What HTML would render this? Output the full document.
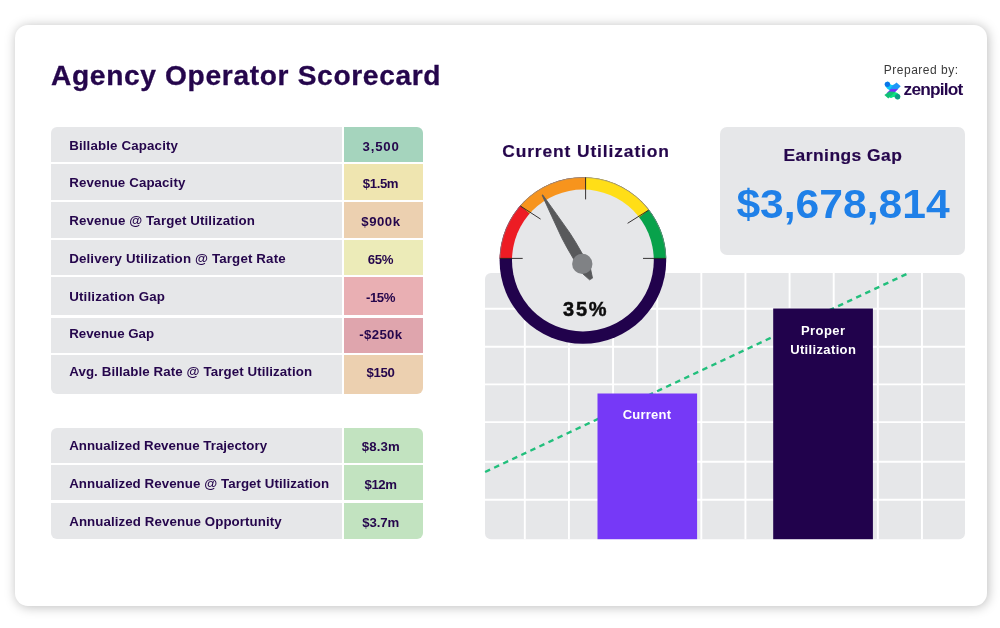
<!DOCTYPE html>
<html lang="en"><head><meta charset="utf-8"><title>Agency Operator Scorecard</title>
<style>
html,body{margin:0;padding:0;background:#fff;}
body{width:1000px;height:628px;position:relative;overflow:hidden;font-family:"Liberation Sans",sans-serif;}
.card{position:absolute;left:15px;top:25px;width:972px;height:581px;background:#fff;border-radius:13px;box-shadow:1px 1px 12px rgba(0,0,0,.27);}
.c{position:absolute;}
.t{position:absolute;white-space:nowrap;font-family:"Liberation Sans",sans-serif;}
svg{position:absolute;left:0;top:0;}
</style></head><body>
<div class="card"></div>
<div class="t " style="left:51.00px;top:60.43px;font-size:26.8px;line-height:32.16px;color:#25064c;font-weight:700;letter-spacing:0.628px;transform:scaleX(1.05);transform-origin:0 50%;-webkit-text-stroke:0.3px #25064c;">Agency Operator Scorecard</div>
<div class="c" style="left:51px;top:127.4px;width:291px;height:34.7px;background:#e6e7e9;border-top-left-radius:6px;"></div>
<div class="c" style="left:343.6px;top:127.4px;width:79.4px;height:34.7px;background:#a5d4bd;border-top-right-radius:6px;"></div>
<div class="t " style="left:69.20px;top:137.71px;font-size:13.3px;line-height:15.96px;color:#25064c;font-weight:700;letter-spacing:0.148px;">Billable Capacity</div>
<div class="t " style="left:181.10px;width:400px;text-align:center;top:138.71px;font-size:13.2px;line-height:15.84px;color:#25064c;font-weight:700;letter-spacing:0.794px;">3,500</div>
<div class="c" style="left:51px;top:164.4px;width:291px;height:35.4px;background:#e6e7e9;"></div>
<div class="c" style="left:343.6px;top:164.4px;width:79.4px;height:35.4px;background:#efe5b0;"></div>
<div class="t " style="left:69.20px;top:175.41px;font-size:13.3px;line-height:15.96px;color:#25064c;font-weight:700;letter-spacing:0.108px;">Revenue Capacity</div>
<div class="t " style="left:180.49px;width:400px;text-align:center;top:176.41px;font-size:13.2px;line-height:15.84px;color:#25064c;font-weight:700;letter-spacing:-0.426px;">$1.5m</div>
<div class="c" style="left:51px;top:202.0px;width:291px;height:35.5px;background:#e6e7e9;"></div>
<div class="c" style="left:343.6px;top:202.0px;width:79.4px;height:35.5px;background:#ecd0b0;"></div>
<div class="t " style="left:69.20px;top:213.11px;font-size:13.3px;line-height:15.96px;color:#25064c;font-weight:700;letter-spacing:0.115px;">Revenue @ Target Utilization</div>
<div class="t " style="left:180.95px;width:400px;text-align:center;top:214.11px;font-size:13.2px;line-height:15.84px;color:#25064c;font-weight:700;letter-spacing:0.499px;">$900k</div>
<div class="c" style="left:51px;top:239.9px;width:291px;height:35.2px;background:#e6e7e9;"></div>
<div class="c" style="left:343.6px;top:239.9px;width:79.4px;height:35.2px;background:#ecebb8;"></div>
<div class="t " style="left:69.20px;top:250.81px;font-size:13.3px;line-height:15.96px;color:#25064c;font-weight:700;letter-spacing:0.15px;">Delivery Utilization @ Target Rate</div>
<div class="t " style="left:180.53px;width:400px;text-align:center;top:251.81px;font-size:13.2px;line-height:15.84px;color:#25064c;font-weight:700;letter-spacing:-0.34px;">65%</div>
<div class="c" style="left:51px;top:277.3px;width:291px;height:37.8px;background:#e6e7e9;"></div>
<div class="c" style="left:343.6px;top:277.3px;width:79.4px;height:37.8px;background:#e9afb3;"></div>
<div class="t " style="left:69.20px;top:288.51px;font-size:13.3px;line-height:15.96px;color:#25064c;font-weight:700;letter-spacing:0.186px;">Utilization Gap</div>
<div class="t " style="left:180.47px;width:400px;text-align:center;top:289.51px;font-size:13.2px;line-height:15.84px;color:#25064c;font-weight:700;letter-spacing:-0.454px;">-15%</div>
<div class="c" style="left:51px;top:317.6px;width:291px;height:35.2px;background:#e6e7e9;"></div>
<div class="c" style="left:343.6px;top:317.6px;width:79.4px;height:35.2px;background:#dfa5ad;"></div>
<div class="t " style="left:69.20px;top:326.21px;font-size:13.3px;line-height:15.96px;color:#25064c;font-weight:700;letter-spacing:-0.01px;">Revenue Gap</div>
<div class="t " style="left:180.88px;width:400px;text-align:center;top:327.21px;font-size:13.2px;line-height:15.84px;color:#25064c;font-weight:700;letter-spacing:0.35px;">-$250k</div>
<div class="c" style="left:51px;top:355.1px;width:291px;height:38.5px;background:#e6e7e9;border-bottom-left-radius:6px;"></div>
<div class="c" style="left:343.6px;top:355.1px;width:79.4px;height:38.5px;background:#ecd0b0;border-bottom-right-radius:6px;"></div>
<div class="t " style="left:69.20px;top:363.91px;font-size:13.3px;line-height:15.96px;color:#25064c;font-weight:700;letter-spacing:0.1px;">Avg. Billable Rate @ Target Utilization</div>
<div class="t " style="left:180.54px;width:400px;text-align:center;top:364.91px;font-size:13.2px;line-height:15.84px;color:#25064c;font-weight:700;letter-spacing:-0.316px;">$150</div>
<div class="c" style="left:51px;top:427.9px;width:291px;height:35.0px;background:#e6e7e9;border-top-left-radius:6px;"></div>
<div class="c" style="left:343.6px;top:427.9px;width:79.4px;height:35.0px;background:#c2e3c0;border-top-right-radius:6px;"></div>
<div class="t " style="left:69.20px;top:438.31px;font-size:13.3px;line-height:15.96px;color:#25064c;font-weight:700;letter-spacing:0.02px;">Annualized Revenue Trajectory</div>
<div class="t " style="left:180.77px;width:400px;text-align:center;top:439.31px;font-size:13.2px;line-height:15.84px;color:#25064c;font-weight:700;letter-spacing:0.134px;">$8.3m</div>
<div class="c" style="left:51px;top:465.1px;width:291px;height:35.2px;background:#e6e7e9;"></div>
<div class="c" style="left:343.6px;top:465.1px;width:79.4px;height:35.2px;background:#c2e3c0;"></div>
<div class="t " style="left:69.20px;top:476.01px;font-size:13.3px;line-height:15.96px;color:#25064c;font-weight:700;letter-spacing:0.068px;">Annualized Revenue @ Target Utilization</div>
<div class="t " style="left:180.47px;width:400px;text-align:center;top:477.01px;font-size:13.2px;line-height:15.84px;color:#25064c;font-weight:700;letter-spacing:-0.465px;">$12m</div>
<div class="c" style="left:51px;top:502.6px;width:291px;height:36.7px;background:#e6e7e9;border-bottom-left-radius:6px;"></div>
<div class="c" style="left:343.6px;top:502.6px;width:79.4px;height:36.7px;background:#c2e3c0;border-bottom-right-radius:6px;"></div>
<div class="t " style="left:69.20px;top:513.61px;font-size:13.3px;line-height:15.96px;color:#25064c;font-weight:700;letter-spacing:0.095px;">Annualized Revenue Opportunity</div>
<div class="t " style="left:180.65px;width:400px;text-align:center;top:514.61px;font-size:13.2px;line-height:15.84px;color:#25064c;font-weight:700;letter-spacing:-0.106px;">$3.7m</div>
<div class="c" style="left:720px;top:127px;width:245px;height:128px;background:#e6e7e9;border-radius:7px;"></div>
<div class="t " style="left:642.94px;width:400px;text-align:center;top:145.03px;font-size:17.4px;line-height:20.88px;color:#25064c;font-weight:700;letter-spacing:0.479px;-webkit-text-stroke:0.2px #25064c;">Earnings Gap</div>
<div class="t " style="left:642.90px;width:400px;text-align:center;top:179.54px;font-size:40px;line-height:48.0px;color:#1f80e8;font-weight:700;transform:scaleX(1.065);transform-origin:50% 50%;">$3,678,814</div>
<div class="t " style="left:883.80px;top:62.64px;font-size:12px;line-height:14.4px;color:#3a3a3a;font-weight:400;letter-spacing:0.5px;">Prepared by:</div>
<div class="t " style="left:903.60px;top:78.93px;font-size:17.3px;line-height:20.76px;color:#25064c;font-weight:700;letter-spacing:-0.8px;">zenpilot</div>
<div class="t " style="left:386.04px;width:400px;text-align:center;top:141.03px;font-size:17.4px;line-height:20.88px;color:#25064c;font-weight:700;letter-spacing:0.889px;-webkit-text-stroke:0.2px #25064c;">Current Utilization</div>
<svg width="1000" height="628" viewBox="0 0 1000 628">
<defs><clipPath id="cc"><rect x="485" y="273" width="480" height="266.2" rx="6" ry="6"/></clipPath></defs>
<rect x="485" y="273" width="480" height="266.2" rx="6" ry="6" fill="#e6e7e9"/>
<g clip-path="url(#cc)" stroke="#fff" stroke-width="1.9"><line x1="524.80" y1="273" x2="524.80" y2="540"/><line x1="568.93" y1="273" x2="568.93" y2="540"/><line x1="613.06" y1="273" x2="613.06" y2="540"/><line x1="657.19" y1="273" x2="657.19" y2="540"/><line x1="701.32" y1="273" x2="701.32" y2="540"/><line x1="745.45" y1="273" x2="745.45" y2="540"/><line x1="789.58" y1="273" x2="789.58" y2="540"/><line x1="833.71" y1="273" x2="833.71" y2="540"/><line x1="877.84" y1="273" x2="877.84" y2="540"/><line x1="921.97" y1="273" x2="921.97" y2="540"/><line x1="485" y1="308.80" x2="965" y2="308.80"/><line x1="485" y1="346.80" x2="965" y2="346.80"/><line x1="485" y1="384.40" x2="965" y2="384.40"/><line x1="485" y1="422.10" x2="965" y2="422.10"/><line x1="485" y1="461.80" x2="965" y2="461.80"/><line x1="485" y1="499.80" x2="965" y2="499.80"/></g>
<line x1="485.1" y1="472.0" x2="906.9" y2="273.9" stroke="#22bf7c" stroke-width="2.4" stroke-dasharray="5.5 4.5"/>
<rect x="597.5" y="393.5" width="99.6" height="145.7" fill="#7639f7"/>
<rect x="773.2" y="308.5" width="99.7" height="230.7" fill="#21024c"/>
<circle cx="582.9" cy="260.5" r="83.3" fill="#21024c"/>
<clipPath id="gu"><rect x="490" y="170" width="190" height="88.40"/></clipPath>
<g clip-path="url(#gu)"><path d="M582.9,260.5 L665.88,267.76 A83.3,83.3 0 0 0 648.99,209.79 Z" fill="#08a24b"/><path d="M582.9,260.5 L648.99,209.79 A83.3,83.3 0 0 0 585.66,177.25 Z" fill="#ffde17"/><path d="M582.9,260.5 L585.66,177.25 A83.3,83.3 0 0 0 520.13,205.74 Z" fill="#f7941d"/><path d="M582.9,260.5 L520.13,205.74 A83.3,83.3 0 0 0 499.92,267.76 Z" fill="#ed1c24"/></g>
<circle cx="582.9" cy="260.5" r="83.0" fill="none" stroke="#8a8c8e" stroke-width="0.6" clip-path="url(#gu)"/>
<circle cx="582.9" cy="260.5" r="70.9" fill="#e6e7e9"/>
<g stroke="#231f20" stroke-width="0.9"><line x1="499.80" y1="258.4" x2="522.7" y2="258.4"/><line x1="643" y1="258.4" x2="666.00" y2="258.4"/><line x1="520.4" y1="206.0" x2="540.6" y2="219.1"/><line x1="585.6" y1="177.3" x2="585.6" y2="199.4"/><line x1="648.5" y1="210.2" x2="627.6" y2="223.3"/></g>
<path d="M542.14,195.15 L551.99,216.74 L561.70,237.70 L566.86,247.42 L577.89,266.46 L582.16,273.23 L589.55,279.81 L592.49,278.11 L590.46,268.42 L586.71,261.34 L575.69,242.31 L569.83,232.99 L556.49,214.14 L542.66,194.85 Z" fill="#58595b" stroke="#58595b" stroke-width="0.9" stroke-linejoin="round"/>
<circle cx="582.3" cy="263.9" r="10.15" fill="#808285"/>
<g transform="translate(880,76)">
<path d="M7.4,8.3 C8.6,11.4 10.6,12.2 14,11.2" stroke="#0ccbf6" stroke-width="5.2" stroke-linecap="round" fill="none"/>
<polygon points="16.5,6.6 20.7,10.3 15.2,15.7 9.4,13.9 12.4,9.9" fill="#1e96f8"/>
<polygon points="17.9,12.9 15.0,15.9 6.3,17.4 10.6,13.2" fill="#7a2ff7"/>
<path d="M11.2,19.2 C13,17.9 15.6,18.2 17.6,20.7" stroke="#0be283" stroke-width="5.2" stroke-linecap="round" fill="none"/>
<polygon points="4.4,18.9 9.4,15.6 15.0,15.9 8.3,22.6" fill="#12c077"/>
<circle cx="7.4" cy="8.3" r="2.6" fill="#0c74e8"/>
<circle cx="17.6" cy="20.7" r="2.6" fill="#0e9d85"/>
</g>
</svg>
<div class="t " style="left:385.70px;width:400px;text-align:center;top:297.07px;font-size:20px;line-height:24.0px;color:#0d0d0d;font-weight:700;letter-spacing:1.7px;-webkit-text-stroke:0.45px #0d0d0d;">35%</div>
<div class="t " style="left:447.00px;width:400px;text-align:center;top:406.60px;font-size:13px;line-height:15.6px;color:#fff;font-weight:700;letter-spacing:0.24px;">Current</div>
<div class="t " style="left:623.20px;width:400px;text-align:center;top:323.10px;font-size:13px;line-height:15.6px;color:#fff;font-weight:700;letter-spacing:0.42px;">Proper</div>
<div class="t " style="left:623.20px;width:400px;text-align:center;top:341.60px;font-size:13px;line-height:15.6px;color:#fff;font-weight:700;letter-spacing:0.36px;">Utilization</div>
</body></html>
